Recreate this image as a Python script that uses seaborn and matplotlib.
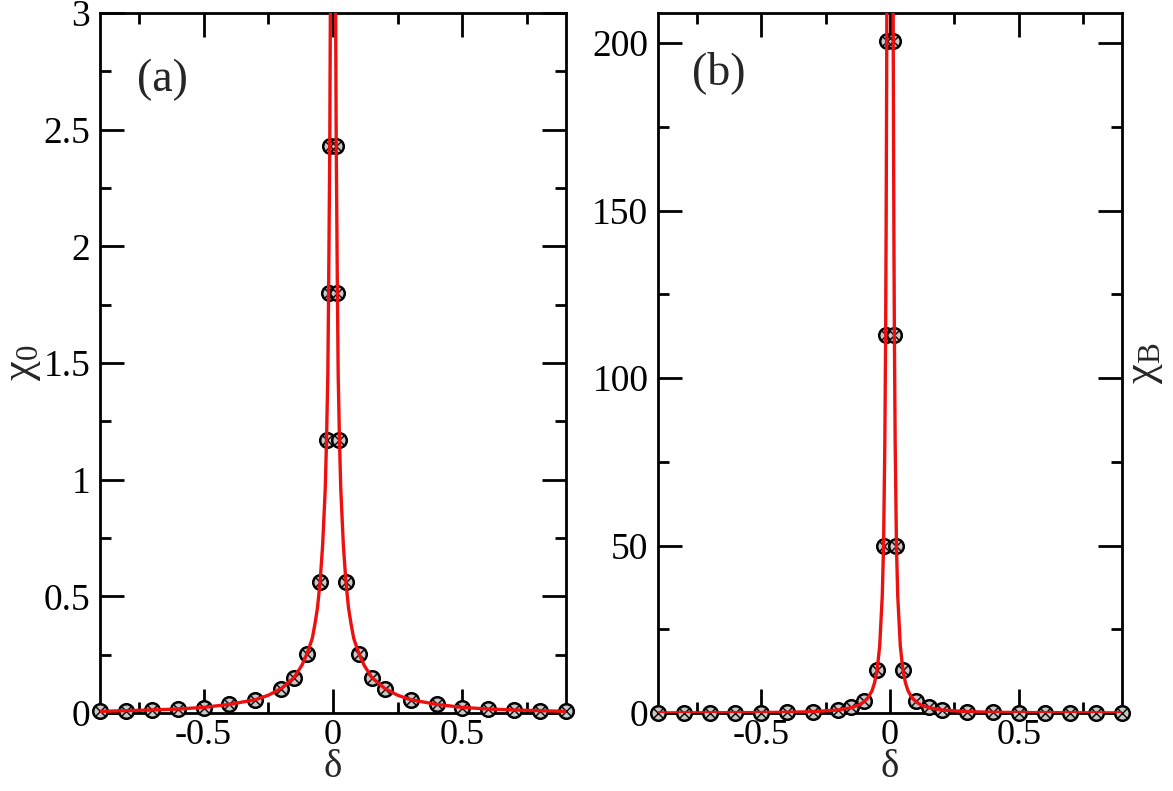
import numpy as np
import pandas as pd
import seaborn as sns
import matplotlib.pyplot as plt
from matplotlib.ticker import MultipleLocator, FormatStrFormatter

# data points, positive delta side; plot is symmetric
delta_pts = [0.0125, 0.017, 0.025, 0.05, 0.1, 0.15, 0.2, 0.3, 0.4, 0.5, 0.6, 0.7, 0.8, 0.9]
chi0_pts = [2.43, 1.80, 1.17, 0.56, 0.255, 0.152, 0.105, 0.057, 0.037, 0.023, 0.017, 0.013, 0.010, 0.007]
chiB_pts = [200.5, 113.0, 50.0, 12.8, 3.6, 1.7, 0.95, 0.40, 0.22, 0.14, 0.10, 0.07, 0.05, 0.04]

# red curves, positive delta side
delta_a_line = [0.006, 0.009, 0.0125, 0.017, 0.02, 0.025, 0.03, 0.04, 0.05, 0.06, 0.07, 0.08,
                0.1, 0.12, 0.15, 0.2, 0.25, 0.3, 0.4, 0.5, 0.6, 0.7, 0.8, 0.9]
chi0_line = [5.0, 3.3, 2.43, 1.80, 1.45, 1.17, 0.96, 0.72, 0.56, 0.45, 0.38, 0.32,
             0.255, 0.205, 0.152, 0.105, 0.076, 0.057, 0.037, 0.024, 0.017, 0.013, 0.010, 0.007]
delta_b_line = [0.008, 0.0125, 0.015, 0.017, 0.02, 0.025, 0.03, 0.04, 0.05, 0.06, 0.07, 0.085,
                0.1, 0.12, 0.15, 0.2, 0.3, 0.4, 0.5, 0.7, 0.9]
chiB_line = [500.0, 200.5, 145.0, 113.0, 81.0, 50.0, 35.0, 20.0, 12.8, 9.0, 6.6, 4.6,
             3.4, 2.4, 1.6, 0.9, 0.40, 0.22, 0.14, 0.07, 0.04]


def mirror(x, y):
    x = np.asarray(x)
    y = np.asarray(y)
    return pd.DataFrame({'delta': np.concatenate([-x[::-1], x]),
                         'chi': np.concatenate([y[::-1], y])})


pts_a = mirror(delta_pts, chi0_pts)
pts_b = mirror(delta_pts, chiB_pts)
line_a = mirror(delta_a_line, chi0_line)
line_b = mirror(delta_b_line, chiB_line)

sns.set_theme(style='ticks')
plt.rcParams['font.family'] = ['Liberation Serif', 'DejaVu Serif']
plt.rcParams['mathtext.fontset'] = 'custom'
plt.rcParams['mathtext.rm'] = 'Liberation Serif'
plt.rcParams['mathtext.it'] = 'Liberation Serif:italic'
plt.rcParams['axes.unicode_minus'] = False

fig = plt.figure(figsize=(11.73, 7.91), dpi=100)
ax1 = fig.add_axes([100 / 1173, 78 / 791, 466 / 1173, 700 / 791])
ax2 = fig.add_axes([658 / 1173, 78 / 791, 464 / 1173, 700 / 791])

for ax, pts, line in [(ax1, pts_a, line_a), (ax2, pts_b, line_b)]:
    sns.scatterplot(data=pts, x='delta', y='chi', ax=ax, marker='o', s=110,
                    color='#c8c8c8', edgecolor='black', linewidth=1.8, zorder=3, clip_on=False)
    sns.scatterplot(data=pts, x='delta', y='chi', ax=ax, marker='x', s=40,
                    color='black', linewidth=1.0, zorder=3, clip_on=False)
    sns.lineplot(data=line, x='delta', y='chi', ax=ax, color='#ee0f0f', linewidth=2.4,
                 zorder=4, estimator=None)
    ax.set_xlim(-0.9, 0.9)
    ax.xaxis.set_major_locator(MultipleLocator(0.5))
    ax.xaxis.set_minor_locator(MultipleLocator(0.25))
    ax.xaxis.set_major_formatter(FormatStrFormatter('%g'))
    ax.yaxis.set_major_formatter(FormatStrFormatter('%g'))
    ax.tick_params(which='both', direction='in', top=True, right=True, width=2,
                   labelsize=27, pad=7, colors='black')
    ax.tick_params(axis='x', labelsize=26, pad=4)
    ax.tick_params(which='major', length=17)
    ax.tick_params(which='minor', length=8)
    for sp in ax.spines.values():
        sp.set_linewidth(2)
        sp.set_color('black')
    ax.set_xlabel('δ', fontsize=28, labelpad=-2)

ax1.set_ylim(0, 3)
ax1.yaxis.set_major_locator(MultipleLocator(0.5))
ax1.yaxis.set_minor_locator(MultipleLocator(0.25))
ax1.set_ylabel('χ$_\\mathrm{0}$', fontsize=32, labelpad=0)
ax1.text(0.135, 0.905, '(a)', transform=ax1.transAxes, fontsize=33, ha='center', va='center')

ax2.set_ylim(0, 209)
ax2.yaxis.set_major_locator(MultipleLocator(50))
ax2.yaxis.set_minor_locator(MultipleLocator(25))
ax2.yaxis.set_label_position('right')
ax2.set_ylabel('χ$_\\mathrm{B}$', fontsize=32, labelpad=2)
ax2.text(0.13, 0.915, '(b)', transform=ax2.transAxes, fontsize=33, ha='center', va='center')

fig.savefig('out.png', dpi=100)
